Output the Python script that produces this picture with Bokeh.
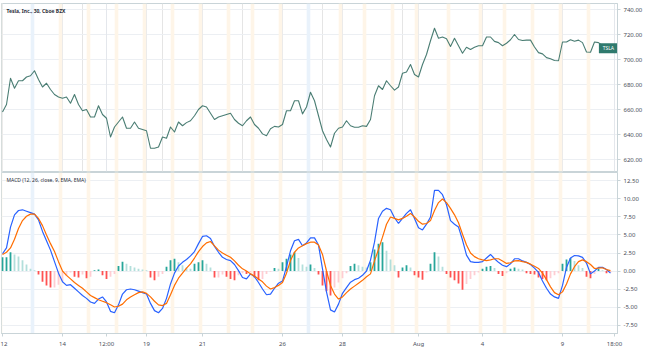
from bokeh.plotting import figure
from bokeh.layouts import column
from bokeh.models import ColumnDataSource, FixedTicker, NumeralTickFormatter, Range1d, Grid
from bokeh.core.properties import value
from bokeh.embed import file_html
from bokeh.resources import INLINE

title_price = "Tesla, Inc., 30, Cboe BZX"
title_macd = "MACD (12, 26, close, 9, EMA, EMA)"
symbol = "TSLA"

price = [
    658, 664, 685, 677, 683, 683, 686, 687, 691, 684,
    678, 681, 676, 672, 670, 669, 670, 665, 672, 664,
    659, 660, 654, 654, 663, 656, 653, 638, 646, 650,
    654, 645, 645, 650, 645, 644, 643, 629, 629, 630,
    638, 637, 646, 642, 650, 647, 649.5, 651, 655, 660,
    663, 662, 657, 652, 654, 655, 656, 657, 652, 649,
    647, 651, 654, 648, 645, 640.5, 639, 644.6, 646.5, 646,
    648, 659, 659, 667, 667, 656.5, 662, 673.8, 667, 655,
    643, 636, 630, 641, 645, 646, 651, 647, 645.8, 645.8,
    647, 646.5, 652, 671, 679, 676, 683, 679, 675.5, 678,
    689, 690, 696, 688, 686, 696, 704, 715, 725, 717,
    718, 716.6, 710.4, 717, 711, 705, 709.8, 708, 709.8, 711,
    711, 718, 718, 714.5, 713.5, 711, 713, 715.8, 720, 716,
    715.2, 715.5, 715.5, 710, 705.5, 704.5, 701.5, 700.6, 699.2, 699,
    714, 714, 715.8, 714.6, 715.5, 713.5, 706, 705.8, 714, 713.5,
    711, 709, 709,
]

macd = [
    2.4, 3.2, 6.1, 7.8, 8.4, 8.5, 8.3, 8.1, 7.9, 7.1,
    5.5, 4.2, 2.9, 1.3, -0.3, -1.5, -2.0, -1.9, -2.4, -2.9,
    -3.4, -3.8, -4.3, -4.5, -3.9, -3.6, -4.3, -5.6, -5.8, -4.7,
    -3.2, -2.6, -2.5, -2.6, -2.8, -3.0, -3.2, -4.5, -5.5, -5.8,
    -5.2, -3.8, -1.8, -0.3, 0.7, 1.2, 1.6, 2.1, 2.7, 3.8,
    4.8, 4.9, 4.5, 3.4, 2.6, 1.9, 1.6, 1.45, 0.9, 0.05,
    -0.9, -1.1, -0.4, -0.8, -1.6, -2.5, -3.3, -3.2, -2.4, -1.7,
    -1.4, 0.6, 2.8, 4.2, 4.4, 3.5, 3.9, 4.6, 4.6, 3.6,
    0.3, -2.9, -5.4, -5.7, -4.6, -3.1, -2.3, -1.55, -1.2, -1.0,
    -0.6, 0.0, 1.5, 4.0, 7.3, 8.3, 8.7, 8.5, 7.4, 6.6,
    7.3, 8.0, 8.5, 7.3, 6.0, 5.7, 6.5, 7.5, 11.2, 11.2,
    10.6, 9.2, 7.0, 6.5, 6.1, 4.3, 2.2, 1.3, 1.2, 1.2,
    1.3, 1.8, 2.3, 1.7, 1.2, 0.8, 0.6, 1.0, 1.7, 1.7,
    1.4, 1.2, 0.9, 0.4, -0.2, -1.4, -2.4, -3.2, -3.6, -3.8,
    -2.0, 0.5, 1.8, 2.15, 2.1, 1.9, 1.1, -0.4, 0.0, 0.5,
    0.5, 0.2, -0.3,
]

signal = [
    2.3, 2.6, 3.2, 4.4, 5.9, 7.0, 7.6, 7.9, 7.9, 7.3,
    6.3, 5.0, 3.8, 2.7, 1.3, 0.0, -0.6, -1.1, -1.6, -2.0,
    -2.4, -2.9, -3.4, -3.7, -4.0, -4.2, -4.4, -4.7, -5.0, -4.9,
    -4.6, -4.0, -3.6, -3.3, -3.0, -2.9, -3.1, -3.6, -4.2, -4.7,
    -4.8, -4.5, -3.3, -2.0, -1.0, -0.3, 0.4, 1.0, 1.8, 2.7,
    3.4, 3.9, 4.1, 3.5, 2.9, 2.5, 2.2, 1.9, 1.4, 0.8,
    0.3, 0.0, -0.4, -0.7, -1.1, -1.5, -2.1, -2.5, -2.3, -2.0,
    -1.6, -0.3, 1.45, 2.6, 3.2, 3.5, 3.8, 4.0, 4.0, 3.6,
    2.3, 0.0, -2.0, -3.2, -3.9, -3.6, -3.0, -2.5, -2.1, -1.7,
    -1.3, -0.8, -0.4, 1.4, 3.0, 4.7, 6.5, 7.5, 7.3, 7.1,
    7.3, 7.6, 8.0, 7.5, 6.9, 6.5, 6.6, 7.0, 8.4, 9.5,
    10.0, 9.5, 8.7, 7.8, 6.7, 5.1, 3.6, 2.5, 2.0, 1.7,
    1.55, 1.45, 1.55, 1.7, 1.7, 1.4, 1.05, 1.15, 1.4, 1.45,
    1.3, 1.2, 0.95, 0.65, 0.35, -0.3, -1.2, -2.2, -3.0, -3.3,
    -2.9, -1.8, -0.4, 0.6, 1.3, 1.55, 1.3, 0.9, 0.35, 0.4,
    0.45, 0.2, 0.05,
]

hist = [
    1.9, 1.9, 2.6, 2.3, 2.0, 1.5, 0.9, 0.3, 0.1, -0.5,
    -1.5, -2.0, -2.3, -2.3, -1.9, -1.4, -0.7, -0.2, -0.8, -0.9,
    -0.5, -1.0, -0.8, 0.1, 0.2, -0.6, -1.1, -0.8, -0.4, 0.7,
    1.3, 1.0, 0.7, 0.5, 0.3, 0.2, 0.1, -0.9, -1.3, -0.8,
    -0.4, 0.6, 1.5, 1.7, 1.2, 0.8, 0.5, 0.3, 1.0, 1.2,
    1.5, 1.0, 0.5, -0.9, -0.9, -0.5, -0.8, -1.1, -1.3, -0.6,
    -0.3, -0.4, -0.2, -0.9, -1.3, -1.1, -0.4, -0.1, 0.4, 0.3,
    1.2, 1.7, 2.3, 2.6, 1.8, 0.9, 0.6, 0.9, 0.4, -0.5,
    -2.0, -2.8, -3.4, -2.3, -1.6, -1.0, -0.3, 0.7, 1.0, 0.8,
    0.6, 0.5, 1.2, 3.0, 3.8, 4.0, 2.8, 1.6, 0.8, -0.9,
    0.5, 0.8, 0.5, -0.6, -0.9, -1.2, -0.2, 1.0, 2.6, 2.0,
    0.6, -0.4, -0.9, -1.3, -1.75, -2.6, -1.8, -1.1, -0.6, -0.2,
    0.3, 0.6, 0.7, 0.4, -0.4, -0.7, -0.3, 0.3, 0.5, 0.3,
    0.2, -0.3, -0.4, -0.5, -0.9, -1.1, -1.3, -1.0, -0.6, -0.3,
    1.0, 1.6, 1.8, 1.4, 0.8, 0.4, -0.8, -1.0, -0.4, 0.3,
    0.1, -0.3, -0.2,
]

tick_bars = [0, 15, 26, 36, 50, 70, 85, 104, 120, 140, 153]
tick_labels = ["12", "14", "12:00", "19", "21", "26", "28", "Aug", "4", "9", "18:00"]
day_bars = [0, 8, 15, 22, 29, 36, 43, 50, 57, 63, 70, 77, 85, 91, 98, 104, 112, 120, 126, 133, 140, 147]
day_kind = ["o", "b", "o", "o", "o", "o", "o", "o", "o", "o", "o", "b", "o", "o", "o", "o", "o", "o", "o", "o", "o", "o"]
price_ticks = [620, 640, 660, 680, 700, 720, 740]
macd_ticks = [-7.5, -5.0, -2.5, 0.0, 2.5, 5.0, 7.5, 10.0, 12.5]

FONT = "Noto Sans"
W = 650
bars = list(range(len(price)))
PLO, PHI = 610.4, 744.8
MLO, MHI = -8.68, 13.68
BORDER = "#c9d4d8"
GRID = "#eceff3"

xr = Range1d(-0.25, 153.75)

def style(p, ticks):
    p.background_fill_color = "white"
    p.border_fill_color = "white"
    p.outline_line_color = BORDER
    ax = p.yaxis[0]
    ax.ticker = FixedTicker(ticks=ticks)
    ax.formatter = NumeralTickFormatter(format="0.00")
    ax.major_label_text_font = FONT
    ax.major_label_text_font_size = "6px"
    ax.major_label_text_color = "#4a4e59"
    ax.axis_line_color = BORDER
    ax.major_tick_line_color = BORDER
    ax.major_tick_out = 3
    ax.major_tick_in = 0
    ax.minor_tick_out = 0
    ax.minor_tick_in = 0
    ax.major_label_standoff = 3
    p.ygrid.ticker = FixedTicker(ticks=ticks)
    p.ygrid.grid_line_color = GRID
    p.add_layout(Grid(dimension=0, ticker=FixedTicker(ticks=tick_bars), grid_line_color="#e4e7ec"))

band_colors = ["#fef5e8" if k == "o" else "#e9f2fb" for k in day_kind]
band_x = [d - 0.5 for d in day_bars]

# --- price pane
p1 = figure(width=W, height=172, x_range=xr, y_range=Range1d(PLO, PHI),
            output_backend="svg", toolbar_location=None, x_axis_location=None,
            y_axis_location="right", min_border_left=1, min_border_right=33,
            min_border_top=3, min_border_bottom=1)
style(p1, price_ticks)
p1.vbar(x=band_x, width=0.9, bottom=PLO, top=PHI, fill_color=band_colors, line_color=None)
p1.line(bars, price, line_color="#4a7d73", line_width=1.1, line_join="round")
p1.text(x=[1], y=[739.0], text=[title_price], text_font=value(FONT), text_font_size="5px",
        text_color="#2a2e39", text_baseline="middle", text_font_style="bold")
last = price[-1]
p1.rect(x=[151.45], y=[last], width=4.7, height=8.0, fill_color="#2f7a6e", line_color=None)
p1.text(x=[151.45], y=[last], text=[symbol], text_font=value(FONT), text_font_size="5px",
        text_color="white", text_align="center", text_baseline="middle")

# --- MACD pane
hcolors = []
for k, h in enumerate(hist):
    prev = hist[k - 1] if k > 0 else h
    if h >= 0:
        hcolors.append("#26a69a" if h >= prev else "#b2dfdb")
    else:
        hcolors.append("#ff5252" if h < prev else "#ffcdd2")

p2 = figure(width=W, height=182, x_range=xr, y_range=Range1d(MLO, MHI),
            output_backend="svg", toolbar_location=None, y_axis_location="right",
            min_border_left=1, min_border_right=33, min_border_top=0, min_border_bottom=21)
style(p2, macd_ticks)
p2.xgrid.visible = False
xa = p2.xaxis[0]
xa.ticker = FixedTicker(ticks=tick_bars)
xa.major_label_overrides = {t: l for t, l in zip(tick_bars, tick_labels)}
xa.major_label_text_font = FONT
xa.major_label_text_font_size = "6px"
xa.major_label_text_color = "#4a4e59"
xa.axis_line_color = BORDER
xa.major_tick_line_color = BORDER
xa.major_tick_out = 3
xa.major_tick_in = 0
xa.minor_tick_out = 0
xa.minor_tick_in = 0
xa.major_label_standoff = 3

p2.vbar(x=band_x, width=0.9, bottom=MLO, top=MHI, fill_color=band_colors, line_color=None)
src = ColumnDataSource(dict(x=bars, top=hist, color=hcolors))
p2.vbar(x="x", top="top", bottom=0, width=0.45, fill_color="color", line_color=None, source=src)
p2.line(bars, macd, line_color="#2962ff", line_width=1.2)
p2.line(bars, signal, line_color="#ff6d00", line_width=1.2)
p2.text(x=[1], y=[12.6], text=[title_macd], text_font=value(FONT), text_font_size="5px",
        text_color="#2a2e39", text_baseline="middle")

layout = column(p1, p2, spacing=0)
open("out.html", "w").write(file_html(layout, INLINE))
